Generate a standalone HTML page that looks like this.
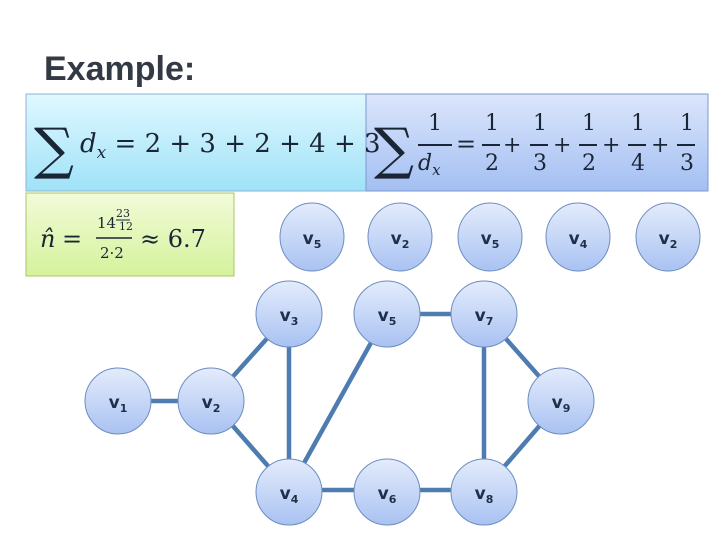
<!DOCTYPE html>
<html><head><meta charset="utf-8"><style>
body{margin:0;width:720px;height:540px;background:#fff;overflow:hidden;font-family:"Liberation Sans",sans-serif}
</style></head><body>
<svg width="720" height="540" xmlns="http://www.w3.org/2000/svg">
<defs>
<linearGradient id="c" x1="0" y1="0" x2="0" y2="1"><stop offset="0" stop-color="#e0f8ff"/><stop offset="1" stop-color="#9fe2f8"/></linearGradient>
<linearGradient id="p" x1="0" y1="0" x2="0" y2="1"><stop offset="0" stop-color="#dce6fc"/><stop offset="1" stop-color="#a3bff2"/></linearGradient>
<linearGradient id="g" x1="0" y1="0" x2="0" y2="1"><stop offset="0" stop-color="#f2fbd8"/><stop offset="1" stop-color="#d5f29c"/></linearGradient>
<linearGradient id="n" x1="0" y1="0" x2="0" y2="1"><stop offset="0" stop-color="#e4ecfc"/><stop offset="1" stop-color="#a9c2f2"/></linearGradient>
</defs>
<text x="44" y="80" font-family="Liberation Sans" font-weight="bold" font-size="34" fill="#333a44">Example:</text>
<rect x="26" y="94" width="340" height="97" fill="url(#c)" stroke="#8fb2d0"/>
<rect x="366" y="94" width="342" height="97" fill="url(#p)" stroke="#7c9acf"/>
<rect x="26" y="193" width="208" height="83" fill="url(#g)" stroke="#a8c46a"/>
<g font-family="DejaVu Serif,Liberation Serif,serif" fill="#1a2535">
<text x="34" y="168" font-size="56">∑</text>
<text x="80" y="152" font-size="26" font-style="italic">d<tspan font-size="17" dy="6">x</tspan><tspan dy="-6" font-style="normal"> = 2 + 3 + 2 + 4 + 3</tspan></text>
<text x="374" y="168" font-size="56">∑</text>
<text x="428" y="130" font-size="22">1</text><line x1="418" y1="145" x2="452" y2="145" stroke="#1a2535" stroke-width="2"/>
<text x="418" y="170" font-size="22" font-style="italic">d<tspan font-size="15" dy="5">x</tspan></text>
<text x="456" y="152" font-size="24">=</text>
<g font-size="22">
<text x="485" y="130">1</text><text x="485" y="170">2</text><line x1="482" y1="145" x2="500" y2="145" stroke="#1a2535" stroke-width="2"/>
<text x="503" y="152">+</text>
<text x="533" y="130">1</text><text x="533" y="170">3</text><line x1="530" y1="145" x2="548" y2="145" stroke="#1a2535" stroke-width="2"/>
<text x="553" y="152">+</text>
<text x="582" y="130">1</text><text x="582" y="170">2</text><line x1="579" y1="145" x2="597" y2="145" stroke="#1a2535" stroke-width="2"/>
<text x="602" y="152">+</text>
<text x="631" y="130">1</text><text x="631" y="170">4</text><line x1="628" y1="145" x2="646" y2="145" stroke="#1a2535" stroke-width="2"/>
<text x="651" y="152">+</text>
<text x="680" y="130">1</text><text x="680" y="170">3</text><line x1="677" y1="145" x2="695" y2="145" stroke="#1a2535" stroke-width="2"/>
</g>
<text x="40" y="247" font-size="24" font-style="italic">n̂</text><text x="62" y="247" font-size="24">=</text>
<text x="97" y="228" font-size="15">14</text><text x="116" y="217" font-size="11">23</text><line x1="116" y1="220" x2="130" y2="220" stroke="#1a2535"/><text x="119" y="230" font-size="11">12</text>
<line x1="96" y1="238" x2="132" y2="238" stroke="#1a2535" stroke-width="1.5"/>
<text x="100" y="258" font-size="15">2·2</text>
<text x="140" y="247" font-size="24">≈ 6.7</text>
</g>
<g stroke="#4f7cb0" stroke-width="4.5">
<line x1="118" y1="401" x2="211" y2="401"/><line x1="211" y1="401" x2="289" y2="314"/><line x1="211" y1="401" x2="289" y2="490"/>
<line x1="289" y1="314" x2="289" y2="490"/><line x1="387" y1="314" x2="289" y2="490"/><line x1="387" y1="314" x2="484" y2="314"/>
<line x1="484" y1="314" x2="484" y2="490"/><line x1="484" y1="314" x2="561" y2="401"/><line x1="561" y1="401" x2="484" y2="490"/>
<line x1="289" y1="490" x2="387" y2="490"/><line x1="387" y1="490" x2="484" y2="490"/>
</g>
<g fill="url(#n)" stroke="#6d8dbf" stroke-width="1">
<circle cx="118" cy="401" r="33"/><circle cx="211" cy="401" r="33"/><circle cx="289" cy="314" r="33"/>
<circle cx="387" cy="314" r="33"/><circle cx="484" cy="314" r="33"/><circle cx="561" cy="401" r="33"/>
<circle cx="289" cy="492" r="33"/><circle cx="387" cy="492" r="33"/><circle cx="484" cy="492" r="33"/>
<ellipse cx="312" cy="237" rx="32" ry="34"/><ellipse cx="400" cy="237" rx="32" ry="34"/><ellipse cx="490" cy="237" rx="32" ry="34"/><ellipse cx="578" cy="237" rx="32" ry="34"/><ellipse cx="668" cy="237" rx="32" ry="34"/>
</g>
<g font-family="DejaVu Sans,sans-serif" font-weight="bold" font-size="17" fill="#1f2f48" text-anchor="middle">
<text x="118" y="408">v<tspan font-size="11" dy="4">1</tspan></text>
<text x="211" y="408">v<tspan font-size="11" dy="4">2</tspan></text>
<text x="289" y="321">v<tspan font-size="11" dy="4">3</tspan></text>
<text x="387" y="321">v<tspan font-size="11" dy="4">5</tspan></text>
<text x="484" y="321">v<tspan font-size="11" dy="4">7</tspan></text>
<text x="561" y="408">v<tspan font-size="11" dy="4">9</tspan></text>
<text x="289" y="499">v<tspan font-size="11" dy="4">4</tspan></text>
<text x="387" y="499">v<tspan font-size="11" dy="4">6</tspan></text>
<text x="484" y="499">v<tspan font-size="11" dy="4">8</tspan></text>
<text x="312" y="244">v<tspan font-size="11" dy="4">5</tspan></text>
<text x="400" y="244">v<tspan font-size="11" dy="4">2</tspan></text>
<text x="490" y="244">v<tspan font-size="11" dy="4">5</tspan></text>
<text x="578" y="244">v<tspan font-size="11" dy="4">4</tspan></text>
<text x="668" y="244">v<tspan font-size="11" dy="4">2</tspan></text>
</g>
</svg>
</body></html>
